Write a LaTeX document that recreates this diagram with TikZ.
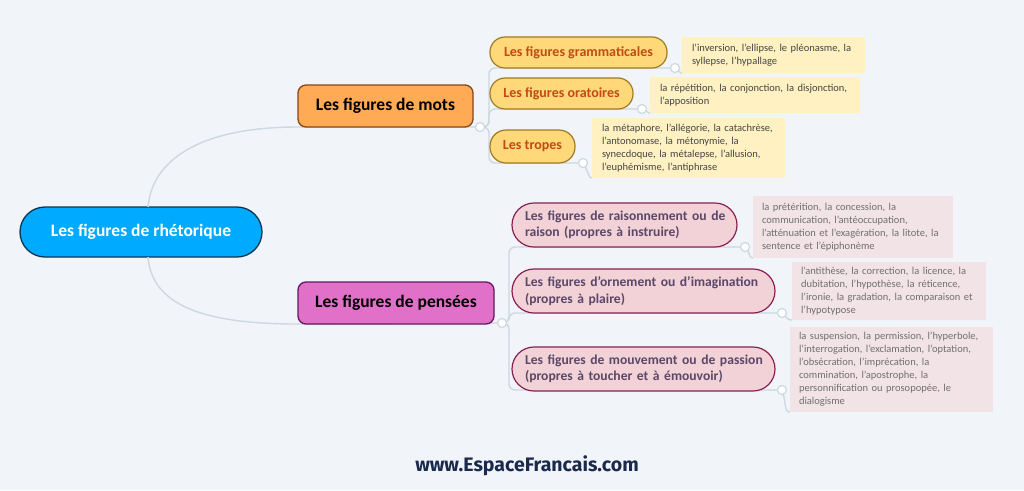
\documentclass[tikz,border=0pt]{standalone}
\usepackage{fontspec}
\setmainfont{Carlito}
\newfontfamily\webfont{Fira Sans}
\definecolor{bgc}{HTML}{F1F4F9}
\definecolor{connc}{HTML}{CDD8DF}
\definecolor{rootfill}{HTML}{00AAFF}
\definecolor{rootdraw}{HTML}{0B3550}
\definecolor{motsfill}{HTML}{FFAA55}
\definecolor{motsdraw}{HTML}{8A4418}
\definecolor{pensfill}{HTML}{E070C8}
\definecolor{pensdraw}{HTML}{641764}
\definecolor{tsubfill}{HTML}{FFD87A}
\definecolor{tsubdraw}{HTML}{A27A22}
\definecolor{tsubtext}{HTML}{C24A14}
\definecolor{tnotefill}{HTML}{FFF1C2}
\definecolor{tnotetext}{HTML}{444444}
\definecolor{psubfill}{HTML}{F2D1D7}
\definecolor{psubdraw}{HTML}{8A1F52}
\definecolor{psubtext}{HTML}{5A4868}
\definecolor{pnotefill}{HTML}{F2E3E7}
\definecolor{pnotetext}{HTML}{707070}
\definecolor{webc}{HTML}{1B2A4C}
\tikzset{
  conn/.style={draw=connc, line width=1.4pt},
  knob/.style={circle, draw=connc, fill=white, line width=1.2pt, minimum size=9pt, inner sep=0pt},
  rootbox/.style={draw=rootdraw, fill=rootfill, line width=1.3pt, rounded corners=25pt, text=white, font=\fontsize{17.5}{20}\selectfont\bfseries, minimum width=242pt, minimum height=50pt},
  mainbox/.style={line width=1.3pt, rounded corners=8pt, font=\fontsize{17.5}{20}\selectfont\bfseries, minimum height=42pt, text=black},
  tsub/.style={draw=tsubdraw, fill=tsubfill, line width=1.2pt, rounded corners=15pt, text=tsubtext, font=\fontsize{14}{16}\selectfont\bfseries, minimum height=31pt, inner sep=0pt},
  tnote/.style={fill=tnotefill, text=tnotetext, font=\fontsize{10.5}{13}\selectfont, align=left, inner xsep=10pt, inner ysep=0pt},
  psub/.style={draw=psubdraw, fill=psubfill, line width=1.2pt, rounded corners=22pt, text=psubtext, font=\fontsize{13.6}{16.5}\selectfont\bfseries, align=left, minimum height=44pt, inner xsep=13pt, inner ysep=0pt},
  pnote/.style={fill=pnotefill, text=pnotetext, font=\fontsize{10.5}{13}\selectfont, align=left, inner xsep=9pt, inner ysep=0pt},
}
\begin{document}
\begin{tikzpicture}[x=1pt,y=-1pt]
\fill[bgc] (0,0) rectangle (1024,490);
\useasboundingbox (0,0) rectangle (1024,490);

% knobs (coordinates for connectors)
\coordinate (mcp) at (480,127);
\coordinate (pcp) at (502,323);
\coordinate (gcp) at (675,68);
\coordinate (ocp) at (642,109);
\coordinate (tcp) at (583,163);
\coordinate (rcp) at (745,247);
\coordinate (ecp) at (782,313);
\coordinate (vcp) at (782,390);

\node[rootbox] (root) at (141,232) {Les figures de rhétorique};

% connectors root -> main
\draw[conn] (148,207) .. controls (152,160) and (200,127) .. (298,127) -- (mcp);
\draw[conn] (148,257) .. controls (152,304) and (200,324) .. (298,324) -- (pcp);

% connectors mots -> subs
\draw[conn, rounded corners=6pt] (mcp) -- (489,127) -- (489,68) -- (gcp);
\draw[conn, rounded corners=6pt] (mcp) -- (489,127) -- (489,109) -- (ocp);
\draw[conn, rounded corners=6pt] (mcp) -- (489,127) -- (489,163) -- (tcp);

% connectors pensees -> subs
\draw[conn, rounded corners=6pt] (pcp) -- (509,323) -- (509,247) -- (rcp);
\draw[conn, rounded corners=6pt] (pcp) -- (509,323) -- (509,313) -- (ecp);
\draw[conn, rounded corners=6pt] (pcp) -- (509,323) -- (509,390) -- (vcp);

% main nodes
\node[mainbox, draw=motsdraw, fill=motsfill, minimum width=175pt] (mots) at (385.5,106) {Les figures de mots};
\node[mainbox, draw=pensdraw, fill=pensfill, minimum width=196pt] (pens) at (396,303) {Les figures de pensées};

% top notes
\node[tnote, text width=163pt, minimum height=36pt] (gnote) at (773.5,55) {l'inversion, l'ellipse, le pléonasme, la\\ syllepse, l'hypallage};
\node[tnote, text width=190pt, minimum height=36pt] (onote) at (755,95) {la répétition, la conjonction, la disjonction,\\ l'apposition};
\node[tnote, text width=173pt, minimum height=60pt] (tnote) at (688.5,148) {la métaphore, l'allégorie, la catachrèse,\\ l'antonomase, la métonymie, la\\ synecdoque, la métalepse, l'allusion,\\ l'euphémisme, l'antiphrase};

% pensees notes
\node[pnote, text width=182pt, minimum height=62pt] (rnote) at (853,227) {la prétérition, la concession, la\\ communication, l'antéoccupation,\\ l'atténuation et l'exagération, la litote, la\\ sentence et l'épiphonème};
\node[pnote, text width=176pt, minimum height=58pt] (enote) at (889,291) {l'antithèse, la correction, la licence, la\\ dubitation, l'hypothèse, la réticence,\\ l'ironie, la gradation, la comparaison et\\ l'hypotypose};
\node[pnote, text width=185pt, minimum height=85pt] (vnote) at (891.5,369.5) {la suspension, la permission, l'hyperbole,\\ l'interrogation, l'exclamation, l'optation,\\ l'obsécration, l'imprécation, la\\ commination, l'apostrophe, la\\ personnification ou prosopopée, le\\ dialogisme};

% knob -> note connectors
\draw[conn] (gcp) .. controls (679,68) and (679,73) .. (gnote.south west);
\draw[conn] (ocp) .. controls (646,109) and (646,113) .. (onote.south west);
\draw[conn] (tcp) .. controls (588,170) and (588,178) .. (tnote.south west);
\draw[conn] (rcp) .. controls (750,250) and (748,258) .. (rnote.south west);
\draw[conn] (ecp) .. controls (787,316) and (786,320) .. (enote.south west);
\draw[conn] (vcp) .. controls (786,400) and (784,412) .. (vnote.south west);

% top subs
\node[tsub, minimum width=177pt] (gram) at (578.5,52.5) {Les figures grammaticales};
\node[tsub, minimum width=143pt] (orat) at (561.5,93.5) {Les figures oratoires};
\node[tsub, minimum width=85pt, minimum height=33pt, rounded corners=16pt] (trop) at (532.5,146.5) {Les tropes};

% pensees subs
\node[psub, text width=199pt] (rais) at (624.5,225) {\mbox{Les figures de raisonnement ou de}\\ \mbox{raison (propres à instruire)}};
\node[psub, text width=237pt] (orne) at (643.5,291) {\mbox{Les figures d'ornement ou d'imagination}\\ \mbox{(propres à plaire)}};
\node[psub, text width=237pt] (mouv) at (643.5,369) {\mbox{Les figures de mouvement ou de passion}\\ \mbox{(propres à toucher et à émouvoir)}};

% knobs drawn on top
\node[knob] (mc) at (mcp) {};
\node[knob] (pc) at (pcp) {};
\node[knob] (gc) at (gcp) {};
\node[knob] (oc) at (ocp) {};
\node[knob] (tc) at (tcp) {};
\node[knob] (rc) at (rcp) {};
\node[knob] (ec) at (ecp) {};
\node[knob] (vc) at (vcp) {};

% website
\node[text=webc, font=\webfont\fontsize{19.5}{22}\selectfont\bfseries] (web) at (527,466) {www.EspaceFrancais.com};
\end{tikzpicture}
\end{document}
